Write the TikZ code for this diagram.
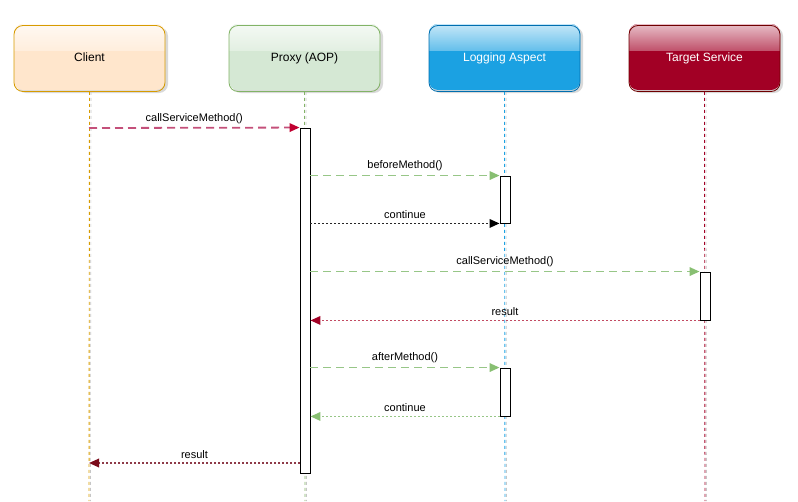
\documentclass[tikz,border=0pt]{standalone}
\usepackage{fontspec}
\setmainfont{Liberation Sans}
\usetikzlibrary{arrows.meta}
\definecolor{cliFill}{HTML}{FFE6CC}
\definecolor{cliLine}{HTML}{D79B00}
\definecolor{prxFill}{HTML}{D5E8D4}
\definecolor{prxLine}{HTML}{82B366}
\definecolor{logFill}{HTML}{1BA1E2}
\definecolor{logLine}{HTML}{006EAF}
\definecolor{tgtFill}{HTML}{A20025}
\definecolor{tgtLine}{HTML}{6F0000}
\definecolor{msgPink}{HTML}{C4507A}
\definecolor{msgPinkHead}{HTML}{C00030}
\definecolor{msgGreen}{HTML}{97C687}
\definecolor{msgGreenHead}{HTML}{88BF72}
\definecolor{msgRed}{HTML}{C24A62}
\definecolor{msgDark}{HTML}{8E3A48}
\definecolor{msgDarkHead}{HTML}{7A0A1A}
\tikzset{
  actorbox/.style={draw=#1, line width=0.8pt, rounded corners=9, minimum width=151, minimum height=66, inner sep=0pt, font=\fontsize{12}{14}\selectfont, text height=9pt, text depth=2.5pt, yshift=-1.5pt},
  life/.style={draw=#1, line width=0.9pt, dash pattern=on 3pt off 3pt},
  lifegray/.style={draw=gray!45, line width=0.6pt, dash pattern=on 3pt off 3pt},
  act/.style={draw=black, line width=0.9pt, fill=white, minimum width=10, inner sep=0pt},
  msgdash/.style={line width=1.8pt, dash pattern=on 8pt off 5pt},
  msgdot/.style={line width=1.8pt, dash pattern=on 1.6pt off 2.4pt},
  tip/.style={-{Triangle[length=10pt,width=8.5pt,color=#1]}},
  lbl/.style={font=\fontsize{11}{13}\selectfont, inner sep=0pt}
}
\begin{document}
\begin{tikzpicture}[x=1pt,y=-1pt]
\useasboundingbox (0,0) rectangle (798,501);

% ---- actor boxes: shadow, fill, glass
\foreach \cx/\base in {89.5/cliFill,304.5/prxFill,504.5/logFill,704.5/tgtFill}{
  \fill[black, opacity=0.15, rounded corners=9] (\cx-75.5+3,24+3) rectangle (\cx+75.5+3,90+3);
  \fill[\base, rounded corners=9] (\cx-75.5,24) rectangle (\cx+75.5,90);
  \begin{scope}
    \clip[rounded corners=9] (\cx-75.5,24) rectangle (\cx+75.5,90);
    \shade[top color=\base!25!white, bottom color=\base!68!white] (\cx-75.5,24) rectangle (\cx+75.5,50.5);
  \end{scope}
}
\node[actorbox=cliLine] (client) at (89.5,57) {Client};
\node[actorbox=prxLine] (proxy) at (304.5,57) {Proxy (AOP)};
\node[actorbox=logLine, text=white] (logging) at (504.5,57) {Logging Aspect};
\node[actorbox=tgtLine, text=white] (target) at (704.5,57) {Target Service};

% ---- lifelines
\coordinate (cb) at (89,501);
\coordinate (pb) at (305,501);
\coordinate (lb) at (505,501);
\coordinate (tb) at (705,501);
\draw[lifegray] ([xshift=1.5pt]client.south) -- ([xshift=1.5pt]cb);
\draw[lifegray] ([xshift=1.5pt]proxy.south) -- ([xshift=1.5pt]pb);
\draw[lifegray] ([xshift=1.5pt]logging.south) -- ([xshift=1.5pt]lb);
\draw[lifegray] ([xshift=1.5pt]target.south) -- ([xshift=1.5pt]tb);
\draw[life=cliLine] (client.south) -- (cb);
\draw[life=prxLine] (proxy.south) -- (pb);
\draw[life=logFill] (logging.south) -- (lb);
\draw[life=tgtFill] (target.south) -- (tb);

% ---- activations
\node[act, minimum height=345] (pa) at (305,300.5) {};
\node[act, minimum height=47] (la1) at (505,199.5) {};
\node[act, minimum height=48] (ta) at (705,296) {};
\node[act, minimum height=48] (la2) at (505,392) {};

% ---- messages
\coordinate (c1) at (89,128);
\coordinate (c8) at (89,463);
\coordinate (p8) at (300,463);

\draw[msgdash, msgPink, tip=msgPinkHead] (c1) -- (pa.north west)
  node[lbl, black, midway, above=3.5pt] {callServiceMethod()};
\draw[msgdash, msgGreen, tip=msgGreenHead] (pa.east |- la1.north) -- (la1.north west)
  node[lbl, black, midway, above=3.5pt] {beforeMethod()};
\draw[msgdot, black!85, tip=black] (pa.east |- la1.south) -- (la1.south west)
  node[lbl, black, midway, above=3.5pt] {continue};
\draw[msgdash, msgGreen, tip=msgGreenHead] (pa.east |- ta.north) -- (ta.north west)
  node[lbl, black, midway, above=3.5pt] {callServiceMethod()};
\draw[msgdot, msgRed, tip=tgtFill] (ta.south west) -- (pa.east |- ta.south)
  node[lbl, black, midway, above=3.5pt] {result};
\draw[msgdash, msgGreen, tip=msgGreenHead] (pa.east |- la2.north) -- (la2.north west)
  node[lbl, black, midway, above=3.5pt] {afterMethod()};
\draw[msgdot, msgGreen, tip=msgGreenHead] (la2.south west) -- (pa.east |- la2.south)
  node[lbl, black, midway, above=3.5pt] {continue};
\draw[msgdot, msgDark, tip=msgDarkHead] (p8) -- (c8)
  node[lbl, black, midway, above=3.5pt] {result};
\end{tikzpicture}
\end{document}
